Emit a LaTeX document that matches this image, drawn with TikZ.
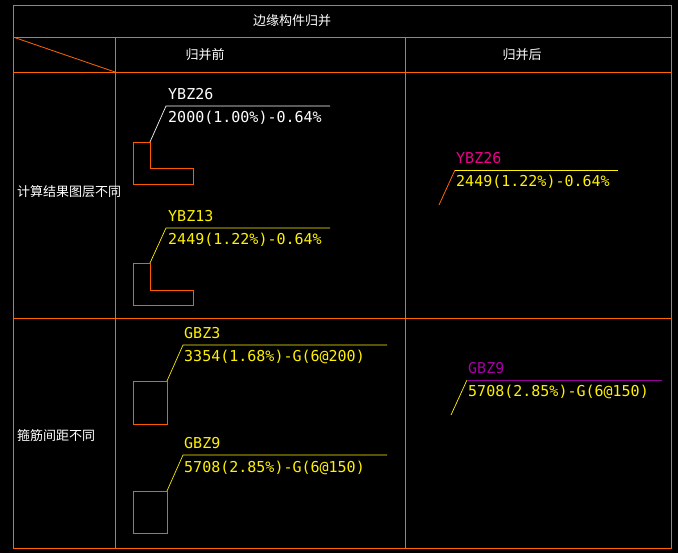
\documentclass[tikz,border=0pt]{standalone}
\usepackage{fontspec}
\setmainfont{Liberation Sans}
\newfontfamily\cadmono{DejaVu Sans Mono}
\newfontfamily\cjk{Noto Sans CJK SC}
\begin{document}
\begin{tikzpicture}[x=1pt,y=-1pt,
  grid/.style={draw=orange!80!red,line width=0.8pt},
  shp/.style={draw=orange!70!red,line width=0.9pt},
  lbl/.style={anchor=base west,inner sep=0pt,font=\cadmono\fontsize{15}{15}\selectfont},
  hd/.style={text=white,font=\cjk\fontsize{13}{13}\selectfont,inner sep=0pt}]
\fill[black] (0,0) rectangle (678,553);
\useasboundingbox (0,0) rectangle (678,553);
% grid
\draw[grid] (13,5) rectangle (671,548);
\draw[grid] (13,37)--(671,37) (13,72)--(671,72) (13,318)--(671,318);
\draw[grid] (115,37)--(115,548) (405,37)--(405,548);
\draw[grid] (13,37)--(115,72);
\node[hd] (t) at (292,21) {边缘构件归并};
\node[hd] (h1) at (205,55) {归并前};
\node[hd] (h2) at (522,55) {归并后};
\node[hd,anchor=west] (r1) at (17,192) {计算结果图层不同};
\node[hd,anchor=west] (r2) at (17,436) {箍筋间距不同};
% row1 left
\draw[shp] (133,142)--(150,142)--(150,168)--(193,168)--(193,184)--(133,184)--cycle;
\draw[white,line width=0.7pt] (150,142)--(166,106)--(330,106);
\node[lbl,text=white] (a1) at (168,100) {YBZ26};
\node[lbl,text=white] (a2) at (168,123) {2000(1.00\%)-0.64\%};
\draw[shp] (133,263)--(150,263)--(150,290)--(193,290)--(193,305)--(133,305)--cycle;
\draw[yellow,line width=0.7pt] (150,263)--(166,228)--(330,228);
\node[lbl,text=yellow] (b1) at (168,222) {YBZ13};
\node[lbl,text=yellow] (b2) at (168,245) {2449(1.22\%)-0.64\%};
% row1 right
\draw[orange!80!red,line width=0.8pt] (439,205)--(455,170);
\draw[yellow,line width=0.7pt] (455,170)--(618,170);
\node[lbl,text=magenta] (c1) at (456,164) {YBZ26};
\node[lbl,text=yellow] (c2) at (456,187) {2449(1.22\%)-0.64\%};
% row2 left
\draw[shp] (133,381) rectangle (167,424);
\draw[yellow,line width=0.7pt] (167,381)--(183,345)--(387,345);
\node[lbl,text=yellow] (d1) at (184,339) {GBZ3};
\node[lbl,text=yellow] (d2) at (184,362) {3354(1.68\%)-G(6@200)};
\draw[shp] (133,491) rectangle (167,533);
\draw[yellow,line width=0.7pt] (167,491)--(183,455)--(387,455);
\node[lbl,text=yellow] (e1) at (184,449) {GBZ9};
\node[lbl,text=yellow] (e2) at (184,472) {5708(2.85\%)-G(6@150)};
% row2 right
\draw[yellow,line width=0.7pt] (451,415)--(467,380);
\draw[violet!80!magenta,line width=0.7pt] (467,380)--(662,380);
\node[lbl,text=violet!70!magenta] (f1) at (468,374) {GBZ9};
\node[lbl,text=yellow] (f2) at (468,397) {5708(2.85\%)-G(6@150)};
\end{tikzpicture}
\end{document}
